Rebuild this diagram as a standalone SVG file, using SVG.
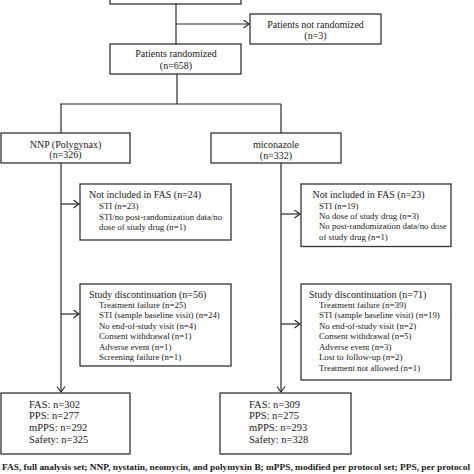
<svg xmlns="http://www.w3.org/2000/svg" width="474" height="474" viewBox="0 0 474 474">
<defs>
<marker id="arr" markerUnits="userSpaceOnUse" markerWidth="10" markerHeight="10" refX="6" refY="4.5" orient="auto">
<path d="M0.5,0.5 L6,4.5 L0.5,8.5" fill="none" stroke="#2a2a2a" stroke-width="1.2"/>
</marker>
<style>
.box{fill:#fff;stroke:#333;stroke-width:1.3}
.ln{fill:none;stroke:#2a2a2a;stroke-width:1.2}
text{font-family:"Liberation Serif","Times New Roman",serif;fill:#1a1a1a}
.c{font-size:10px;text-anchor:middle}
.h{font-size:10px}
.s{font-size:8.8px}
.f{font-size:10.5px}
.fn{font-size:8.6px;font-weight:bold}
</style>
</defs>
<rect width="474" height="474" fill="#fff"/>
<g id="connectors">
<path class="ln" d="M176,4 V44"/>
<path class="ln" d="M176,24 H249" marker-end="url(#arr)"/>
<path class="ln" d="M177,74 V104"/>
<path class="ln" d="M60,104 H281"/>
<path class="ln" d="M61,104 V133"/>
<path class="ln" d="M281,104 V133"/>
<path class="ln" d="M61,163 V392" marker-end="url(#arr)"/>
<path class="ln" d="M61,204 H79" marker-end="url(#arr)"/>
<path class="ln" d="M61,314 H79" marker-end="url(#arr)"/>
<path class="ln" d="M281,163 V392" marker-end="url(#arr)"/>
<path class="ln" d="M281,214 H300" marker-end="url(#arr)"/>
<path class="ln" d="M281,324 H300" marker-end="url(#arr)"/>
</g>
<g id="top">
<rect class="box" x="110" y="-20" width="131" height="24"/>
</g>
<g id="not-randomized">
<rect class="box" x="250" y="14" width="131" height="30"/>
<text class="c" x="315.5" y="27.5">Patients not randomized</text>
<text class="c" x="315.5" y="38.5">(n=3)</text>
</g>
<g id="randomized">
<rect class="box" x="110" y="44" width="131" height="30"/>
<text class="c" x="176" y="57">Patients randomized</text>
<text class="c" x="176" y="68.5">(n=658)</text>
</g>
<g id="nnp">
<rect class="box" x="1" y="133" width="129" height="30"/>
<text class="c" x="65.5" y="148">NNP (Polygynax)</text>
<text class="c" x="65.5" y="158">(n=326)</text>
</g>
<g id="miconazole">
<rect class="box" x="211" y="133" width="130" height="30"/>
<text class="c" x="276" y="148">miconazole</text>
<text class="c" x="276" y="158.5">(n=332)</text>
</g>
<g id="nnp-not-fas">
<rect class="box" x="80" y="184" width="151" height="56"/>
<text class="h" x="89" y="197.5">Not included in FAS (n=24)</text>
<text class="s" x="99" y="209">STI (n=23)</text>
<text class="s" x="99" y="219.5">STI/no post-randomization data/no</text>
<text class="s" x="99" y="230">dose of study drug (n=1)</text>
</g>
<g id="mic-not-fas">
<rect class="box" x="301" y="184" width="150" height="62.5"/>
<text class="h" x="312.5" y="197.5">Not included in FAS (n=23)</text>
<text class="s" x="319" y="208.5">STI (n=19)</text>
<text class="s" x="319" y="218.5">No dose of study drug (n=3)</text>
<text class="s" x="319" y="229">No post-randomization data/no dose</text>
<text class="s" x="319" y="239.5">of study drug (n=1)</text>
</g>
<g id="nnp-disc">
<rect class="box" x="80" y="284" width="151" height="82"/>
<text class="h" x="89" y="297.5">Study discontinuation (n=56)</text>
<text class="s" x="99" y="307.5">Treatment failure (n=25)</text>
<text class="s" x="99" y="318">STI (sample baseline visit) (n=24)</text>
<text class="s" x="99" y="328.5">No end-of-study visit (n=4)</text>
<text class="s" x="99" y="339">Consent withdrawal (n=1)</text>
<text class="s" x="99" y="349.5">Adverse event (n=1)</text>
<text class="s" x="99" y="360">Screening failure (n=1)</text>
</g>
<g id="mic-disc">
<rect class="box" x="301" y="284" width="150" height="96"/>
<text class="h" x="309" y="297.5">Study discontinuation (n=71)</text>
<text class="s" x="319" y="307.5">Treatment failure (n=39)</text>
<text class="s" x="319" y="318">STI (sample baseline visit) (n=19)</text>
<text class="s" x="319" y="328.5">No end-of-study visit (n=2)</text>
<text class="s" x="319" y="339">Consent withdrawal (n=5)</text>
<text class="s" x="319" y="349.5">Adverse event (n=3)</text>
<text class="s" x="319" y="360">Lost to follow-up (n=2)</text>
<text class="s" x="319" y="370.5">Treatment not allowed (n=1)</text>
</g>
<g id="nnp-final">
<rect class="box" x="1" y="393" width="129" height="61"/>
<text class="f" x="29" y="407.5">FAS: n=302</text>
<text class="f" x="29" y="419">PPS: n=277</text>
<text class="f" x="29" y="430.5">mPPS: n=292</text>
<text class="f" x="29" y="442.5">Safety: n=325</text>
</g>
<g id="mic-final">
<rect class="box" x="220" y="393" width="131" height="61"/>
<text class="f" x="249" y="407.5">FAS: n=309</text>
<text class="f" x="249" y="419">PPS: n=275</text>
<text class="f" x="249" y="430.5">mPPS: n=293</text>
<text class="f" x="249" y="442.5">Safety: n=328</text>
</g>
<text class="fn" x="2" y="470" textLength="468" lengthAdjust="spacingAndGlyphs">FAS, full analysis set; NNP, nystatin, neomycin, and polymyxin B; mPPS, modified per protocol set; PPS, per protocol</text>
</svg>
